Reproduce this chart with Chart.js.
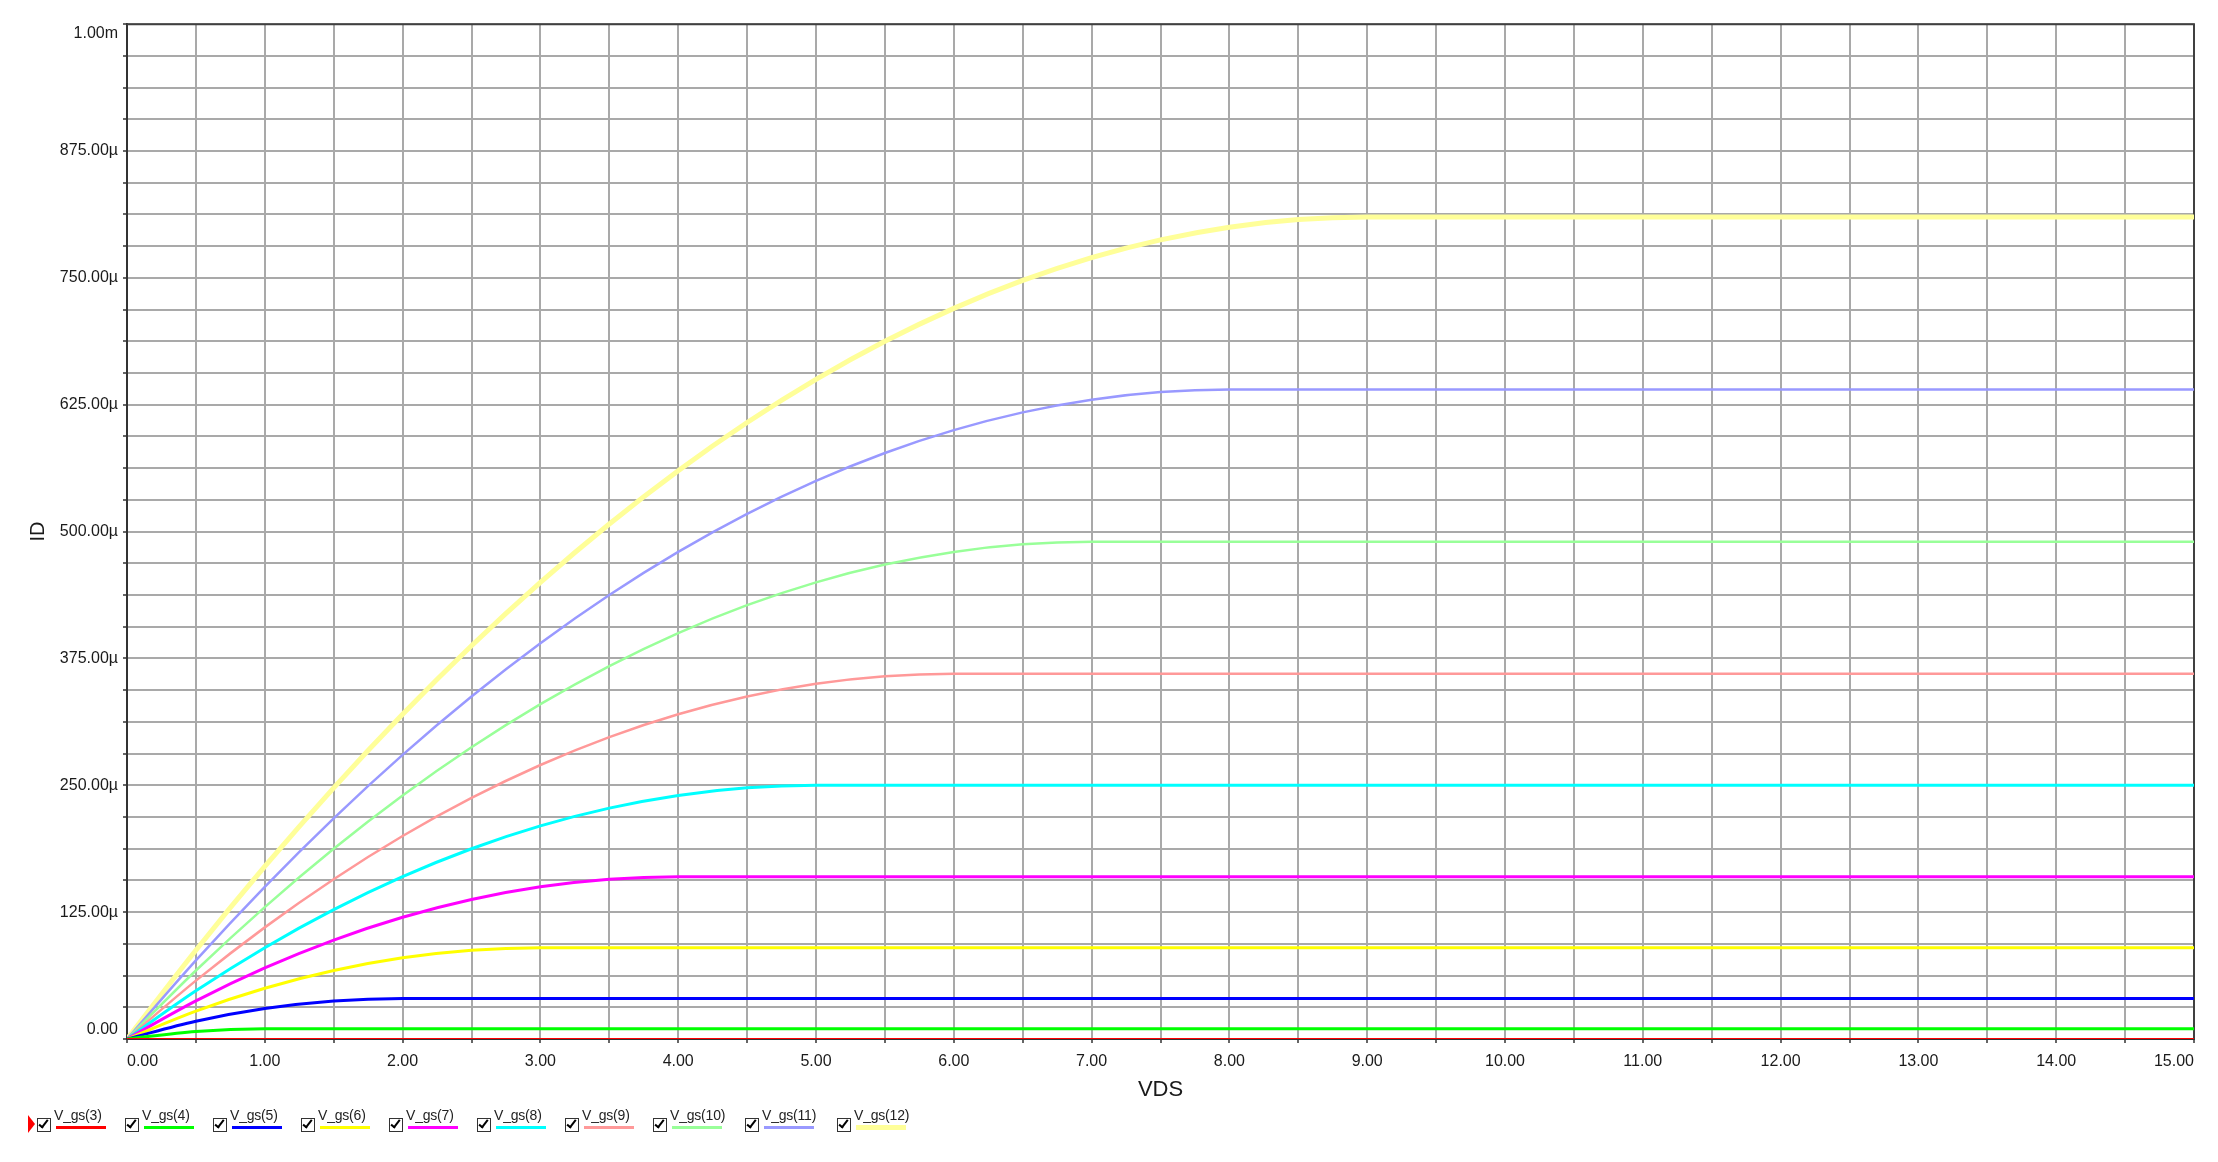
<!DOCTYPE html>
<html>
<head>
<meta charset="utf-8">
<script src="https://cdn.jsdelivr.net/npm/chart.js@4.4.0/dist/chart.umd.min.js"></script>
<style>
html,body{margin:0;padding:0;background:#fff;}
#wrap{position:relative;width:2218px;height:1162px;overflow:hidden;background:#fff;}
#c{position:absolute;left:0;top:0;}
#legend{position:absolute;left:28px;top:1105px;display:flex;align-items:flex-start;font-family:"Liberation Sans",Arial,sans-serif;}
.mark{width:0;height:0;margin-top:10px;margin-right:2px;border-left:7px solid #f00;border-top:9px solid transparent;border-bottom:9px solid transparent;}
.item{display:flex;align-items:flex-start;margin-right:19px;}
.cb{width:12px;height:12px;border:1px solid #333;margin-top:13px;position:relative;background:#fff;flex:none;}
.cb::after{content:"";position:absolute;left:3px;top:-1px;width:3px;height:8px;border-right:2.5px solid #000;border-bottom:2.5px solid #000;transform:rotate(38deg);}
.lab{position:relative;margin-left:3px;height:30px;}
.txt{position:absolute;left:0;top:2px;font-size:14px;line-height:16px;letter-spacing:-0.2px;color:#222;white-space:nowrap;}
.ln{position:absolute;left:2px;width:50px;}
</style>
</head>
<body>
<div id="wrap">
  <canvas id="c" width="2218" height="1162"></canvas>
  <div id="legend"></div>
</div>
<script>
// ---- data (ID in µA, VDS in V) ----
const vds = [0,0.5,1,1.5,2,2.5,3,3.5,4,4.5,5,5.5,6,6.5,7,7.5,8,8.5,9,9.5,10,10.5,11,11.5,12,12.5,13,13.5,14,14.5,15];
const seriesNames = ['V_gs(3)','V_gs(4)','V_gs(5)','V_gs(6)','V_gs(7)','V_gs(8)','V_gs(9)','V_gs(10)','V_gs(11)','V_gs(12)'];
const idVgs3  = [0,0,0,0,0,0,0,0,0,0,0,0,0,0,0,0,0,0,0,0,0,0,0,0,0,0,0,0,0,0,0];
const idVgs4  = [0,7.5,10,10,10,10,10,10,10,10,10,10,10,10,10,10,10,10,10,10,10,10,10,10,10,10,10,10,10,10,10];
const idVgs5  = [0,17.5,30,37.5,40,40,40,40,40,40,40,40,40,40,40,40,40,40,40,40,40,40,40,40,40,40,40,40,40,40,40];
const idVgs6  = [0,27.5,50,67.5,80,87.5,90,90,90,90,90,90,90,90,90,90,90,90,90,90,90,90,90,90,90,90,90,90,90,90,90];
const idVgs7  = [0,37.5,70,97.5,120,137.5,150,157.5,160,160,160,160,160,160,160,160,160,160,160,160,160,160,160,160,160,160,160,160,160,160,160];
const idVgs8  = [0,47.5,90,127.5,160,187.5,210,227.5,240,247.5,250,250,250,250,250,250,250,250,250,250,250,250,250,250,250,250,250,250,250,250,250];
const idVgs9  = [0,57.5,110,157.5,200,237.5,270,297.5,320,337.5,350,357.5,360,360,360,360,360,360,360,360,360,360,360,360,360,360,360,360,360,360,360];
const idVgs10 = [0,67.5,130,187.5,240,287.5,330,367.5,400,427.5,450,467.5,480,487.5,490,490,490,490,490,490,490,490,490,490,490,490,490,490,490,490,490];
const idVgs11 = [0,77.5,150,217.5,280,337.5,390,437.5,480,517.5,550,577.5,600,617.5,630,637.5,640,640,640,640,640,640,640,640,640,640,640,640,640,640,640];
const idVgs12 = [0,87.5,170,247.5,320,387.5,450,507.5,560,607.5,650,687.5,720,747.5,770,787.5,800,807.5,810,810,810,810,810,810,810,810,810,810,810,810,810];
const seriesValues = [idVgs3,idVgs4,idVgs5,idVgs6,idVgs7,idVgs8,idVgs9,idVgs10,idVgs11,idVgs12];

// ---- styles ----
const seriesStyles = [
  {color:'#ff0000', width:2},
  {color:'#00ff00', width:3},
  {color:'#0000ff', width:3},
  {color:'#ffff00', width:3},
  {color:'#ff00ff', width:3},
  {color:'#00ffff', width:3},
  {color:'#ff9999', width:2.5},
  {color:'#99ff99', width:2.5},
  {color:'#9999ff', width:2.5},
  {color:'#ffff99', width:5}
];
const FONT = '"Liberation Sans", Arial, sans-serif';

const datasets = seriesNames.map((name, k) => ({
  label: name,
  data: vds.map((x, i) => ({x: x, y: seriesValues[k][i]})),
  borderColor: seriesStyles[k].color,
  backgroundColor: seriesStyles[k].color,
  borderWidth: seriesStyles[k].width,
  pointRadius: 0,
  fill: false,
  cubicInterpolationMode: 'monotone'
}));

const framePlugin = {
  id: 'frame',
  beforeDatasetsDraw(chart) {
    const {ctx, chartArea: a} = chart;
    ctx.save();
    ctx.strokeStyle = '#404040';
    ctx.lineWidth = 2;
    ctx.beginPath();
    ctx.moveTo(a.left, a.top);
    ctx.lineTo(a.right, a.top);
    ctx.lineTo(a.right, a.bottom);
    ctx.stroke();
    ctx.restore();
  }
};

new Chart(document.getElementById('c').getContext('2d'), {
  type: 'line',
  data: {datasets},
  options: {
    responsive: false,
    animation: false,
    devicePixelRatio: 1,
    events: [],
    layout: {padding: {top: 22, right: 24, bottom: 57, left: 0}},
    plugins: {legend: {display: false}, tooltip: {enabled: false}},
    scales: {
      x: {
        type: 'linear', min: 0, max: 15,
        afterFit(s) { s.height = 66; },
        grid: {color: '#a9a9a9', lineWidth: 2, tickColor: '#333', tickLength: 4, tickWidth: 1.5},
        border: {color: '#333', width: 2},
        ticks: {
          stepSize: 0.5, autoSkip: false, align: 'inner', maxRotation: 0, padding: 9,
          color: '#1a1a1a', font: {family: FONT, size: 16},
          callback: v => Number.isInteger(v) ? v.toFixed(2) : ''
        },
        title: {display: true, text: 'VDS', color: '#1a1a1a', font: {family: FONT, size: 22}, padding: {top: 0, bottom: 2}}
      },
      y: {
        type: 'linear', min: 0, max: 1000,
        afterFit(s) { s.width = 127; },
        grid: {color: '#a9a9a9', lineWidth: 2, tickColor: '#333', tickLength: 4, tickWidth: 1.5},
        border: {color: '#333', width: 2},
        ticks: {
          stepSize: 31.25, autoSkip: false, padding: 5,
          color: '#1a1a1a', font: {family: FONT, size: 16},
          callback: v => {
            if (v % 125 !== 0) return '';
            if (v === 1000) return ['', '1.00m'];
            if (v === 0) return ['0.00', ''];
            return v.toFixed(2) + 'µ';
          }
        },
        title: {display: true, text: 'ID', color: '#1a1a1a', font: {family: FONT, size: 20}, padding: {top: 26, bottom: 0}}
      }
    }
  },
  plugins: [framePlugin]
});

// ---- legend ----
const legend = document.getElementById('legend');
const mark = document.createElement('div');
mark.className = 'mark';
legend.appendChild(mark);
seriesNames.forEach((name, k) => {
  const item = document.createElement('div');
  item.className = 'item';
  const cb = document.createElement('div');
  cb.className = 'cb';
  const lab = document.createElement('div');
  lab.className = 'lab';
  lab.style.width = (name.length > 7 ? 56 : 52) + 'px';
  const txt = document.createElement('span');
  txt.className = 'txt';
  txt.textContent = name;
  const ln = document.createElement('div');
  ln.className = 'ln';
  const w = seriesStyles[k].width >= 5 ? 5 : 3;
  ln.style.height = w + 'px';
  ln.style.top = (22 - Math.floor(w / 2)) + 'px';
  ln.style.background = seriesStyles[k].color;
  lab.appendChild(txt);
  lab.appendChild(ln);
  item.appendChild(cb);
  item.appendChild(lab);
  legend.appendChild(item);
});
</script>
</body>
</html>
